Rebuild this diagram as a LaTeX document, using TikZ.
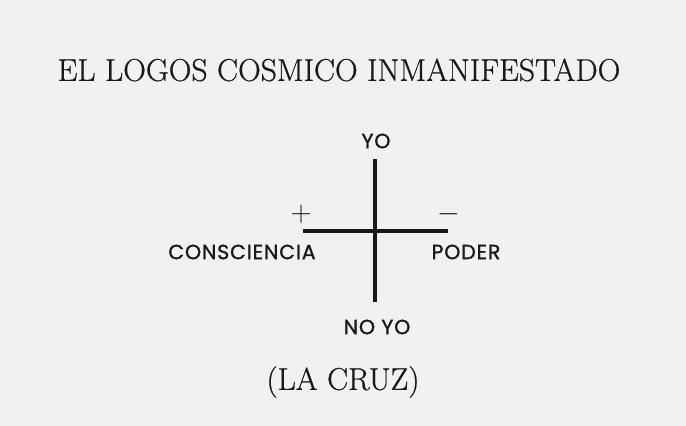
\documentclass[tikz,border=0pt]{standalone}
\usepackage{fontspec}
\newfontfamily\crossfont{Poppins}[FakeBold=1.2, LetterSpace=4]
\newfontfamily\titlefont{Latin Modern Roman}[FakeBold=0.7]
\usepackage{tikz}
\definecolor{paper}{RGB}{241,241,239}
\definecolor{ink}{RGB}{25,25,25}
\tikzset{
  label text/.style={text=ink, inner sep=0pt, font=\crossfont\fontsize{14.6}{16}\selectfont},
  title text/.style={text=ink, inner sep=0pt, font=\titlefont\fontsize{22.4}{26}\selectfont},
  sign text/.style={text=ink, inner sep=0pt, font=\fontsize{20}{22}\selectfont},
  bar/.style={draw=ink, line width=2.9pt}
}
\begin{document}
\begin{tikzpicture}[x=0.025cm, y=-0.025cm]
			%%%%% START %%%%%
			
			\fill[paper] (0, 0) rectangle (686, 426);
			\useasboundingbox (0, 0) rectangle (686, 426);
			
			\node[title text] (title) at (339, 70) {EL LOGOS COSMICO INMANIFESTADO};
			
			\coordinate (top) at (375, 159);
			\coordinate (bottom) at (375, 302);
			\coordinate (left) at (303, 231);
			\coordinate (right) at (448, 231);
			
			\draw[bar] (top) -- (bottom);
			\draw[bar] (left) -- (right);
			
			\node[label text] (yo) at (376, 141) {YO};
			\node[label text] (noyo) at (377, 327) {NO YO};
			\node[label text] (consciencia) at (242, 252) {CONSCIENCIA};
			\node[label text] (poder) at (466, 252) {PODER};
			
			\node[sign text] (plus) at (301, 214) {$+$};
			\node[sign text] (minus) at (449, 214) {$-$};
			
			\node[title text, font=\titlefont\fontsize{22.4}{26}\selectfont] (cruz) at (343, 382) {(LA CRUZ)};
			
			%%%%% END %%%%%
\end{tikzpicture}
\end{document}
